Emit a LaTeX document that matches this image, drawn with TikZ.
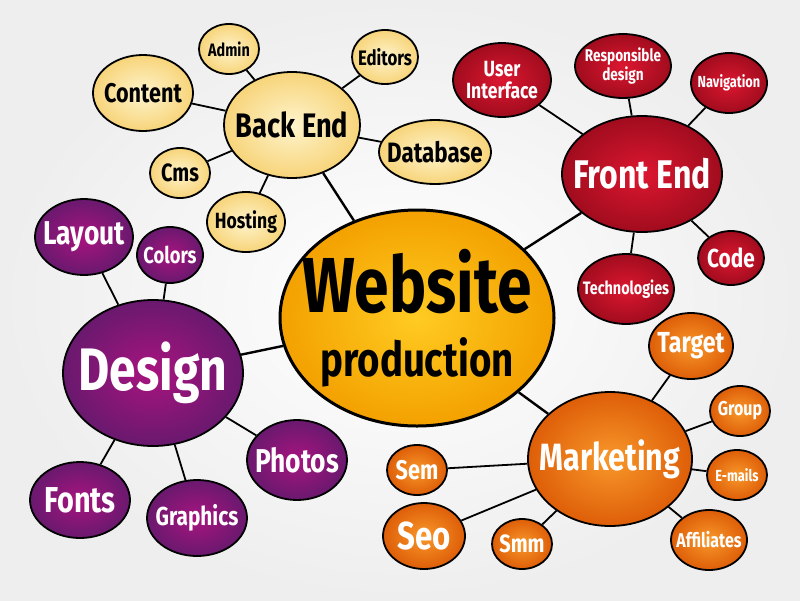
\documentclass[tikz,border=0pt]{standalone}
\usepackage{fontspec}
\setmainfont{Fira Sans}[FakeStretch=0.8]
\usetikzlibrary{shapes.geometric}
\definecolor{bggray}{HTML}{EEEEEE}
\definecolor{webin}{HTML}{FFCB22}
\definecolor{webout}{HTML}{F3A100}
\definecolor{backin}{HTML}{FEF4CC}
\definecolor{backout}{HTML}{F7D47A}
\definecolor{frontin}{HTML}{DC1730}
\definecolor{frontout}{HTML}{A10C1E}
\definecolor{designin}{HTML}{A8147F}
\definecolor{designout}{HTML}{69196E}
\definecolor{markin}{HTML}{F8982A}
\definecolor{markout}{HTML}{DE5E08}

\begin{document}
\begin{tikzpicture}[x=1pt,y=-1pt,
	bub/.style={ellipse,draw=black,line width=1.8pt,inner sep=0pt,shade},
	webbub/.style={bub,line width=3pt,inner color=webin,outer color=webout},
	backbub/.style={bub,inner color=backin,outer color=backout},
	frontbub/.style={bub,inner color=frontin,outer color=frontout},
	designbub/.style={bub,inner color=designin,outer color=designout},
	markbub/.style={bub,inner color=markin,outer color=markout},
	sz/.style 2 args={minimum width=#1,minimum height=#2},
	txt/.style n args={3}{label={[text=#1,font=\fontsize{#2}{#2}\selectfont\bfseries,align=center]center:{#3}}},
	trunk/.style={line width=2.4pt},
	twig/.style={line width=1.8pt}]
	\useasboundingbox (0,0) rectangle (800,600);
	\shade[inner color=white,outer color=bggray] (0,0) rectangle (800,600);

	\node[webbub,sz={274}{216},txt={black}{78}{Website\\[-14pt]\fontsize{48}{48}\selectfont production}] (web) at (417,318) {};

	\node[backbub,sz={136}{106},txt={black}{34}{Back End}] (back) at (292,125) {};
	\node[backbub,sz={100}{76},txt={black}{27}{Content}] (content) at (143,93) {};
	\node[backbub,sz={60}{50},txt={black}{18}{Admin}] (admin) at (229,49) {};
	\node[backbub,sz={66}{54},txt={black}{21}{Editors}] (editors) at (385,57) {};
	\node[backbub,sz={112}{64},txt={black}{28}{Database}] (database) at (435,152) {};
	\node[backbub,sz={60}{50},txt={black}{25}{Cms}] (cms) at (180,173) {};
	\node[backbub,sz={78}{60},txt={black}{22}{Hosting}] (hosting) at (246,222) {};

	\node[frontbub,sz={160}{116},txt={white}{40}{Front End}] (front) at (642,174) {};
	\node[frontbub,sz={98}{74},txt={white}{22}{User\\Interface}] (user) at (502,80) {};
	\node[frontbub,sz={96}{64},txt={white}{17}{Responsible\\design}] (resp) at (623,66) {};
	\node[frontbub,sz={76}{60},txt={white}{16}{Navigation}] (nav) at (729,83) {};
	\node[frontbub,sz={66}{54},txt={white}{26}{Code}] (code) at (731,258) {};
	\node[frontbub,sz={96}{70},txt={white}{18}{Technologies}] (tech) at (626,289) {};

	\node[designbub,sz={180}{146},txt={white}{60}{Design}] (design) at (153,373) {};
	\node[designbub,sz={98}{76},txt={white}{33}{Layout}] (layout) at (84,237) {};
	\node[designbub,sz={66}{56},txt={white}{23}{Colors}] (colors) at (170,255) {};
	\node[designbub,sz={100}{80},txt={white}{33}{Photos}] (photos) at (297,460) {};
	\node[designbub,sz={100}{76},txt={white}{36}{Fonts}] (fonts) at (80,500) {};
	\node[designbub,sz={100}{76},txt={white}{26}{Graphics}] (graphics) at (197,518) {};

	\node[markbub,sz={164}{134},txt={white}{38}{Marketing}] (mark) at (610,459) {};
	\node[markbub,sz={84}{66},txt={white}{29}{Target}] (target) at (691,346) {};
	\node[markbub,sz={60}{50},txt={white}{20}{Group}] (group) at (740,411) {};
	\node[markbub,sz={60}{50},txt={white}{16}{E-mails}] (emails) at (737,475) {};
	\node[markbub,sz={76}{60},txt={white}{20}{Affiliates}] (affil) at (709,540) {};
	\node[markbub,sz={60}{50},txt={white}{27}{Sem}] (sem) at (417,470) {};
	\node[markbub,sz={82}{66},txt={white}{39}{Seo}] (seo) at (424,536) {};
	\node[markbub,sz={60}{50},txt={white}{25}{Smm}] (smm) at (522,544) {};

	\draw[trunk] (web) -- (back);
	\draw[trunk] (web) -- (front);
	\draw[trunk] (web) -- (design);
	\draw[trunk] (web) -- (mark);

	\draw[twig] (back) -- (content);
	\draw[twig] (back) -- (admin);
	\draw[twig] (back) -- (editors);
	\draw[twig] (back) -- (database);
	\draw[twig] (back) -- (cms);
	\draw[twig] (back) -- (hosting);

	\draw[twig] (front) -- (user);
	\draw[twig] (front) -- (resp);
	\draw[twig] (front) -- (nav);
	\draw[twig] (front) -- (code);
	\draw[twig] (front) -- (tech);

	\draw[twig] (design) -- (layout);
	\draw[twig] (design) -- (colors);
	\draw[twig] (design) -- (photos);
	\draw[twig] (design) -- (fonts);
	\draw[twig] (design) -- (graphics);

	\draw[twig] (mark) -- (target);
	\draw[twig] (mark) -- (group);
	\draw[twig] (mark) -- (emails);
	\draw[twig] (mark) -- (affil);
	\draw[twig] (mark) -- (sem);
	\draw[twig] (mark) -- (seo);
	\draw[twig] (mark) -- (smm);
\end{tikzpicture}
\end{document}
